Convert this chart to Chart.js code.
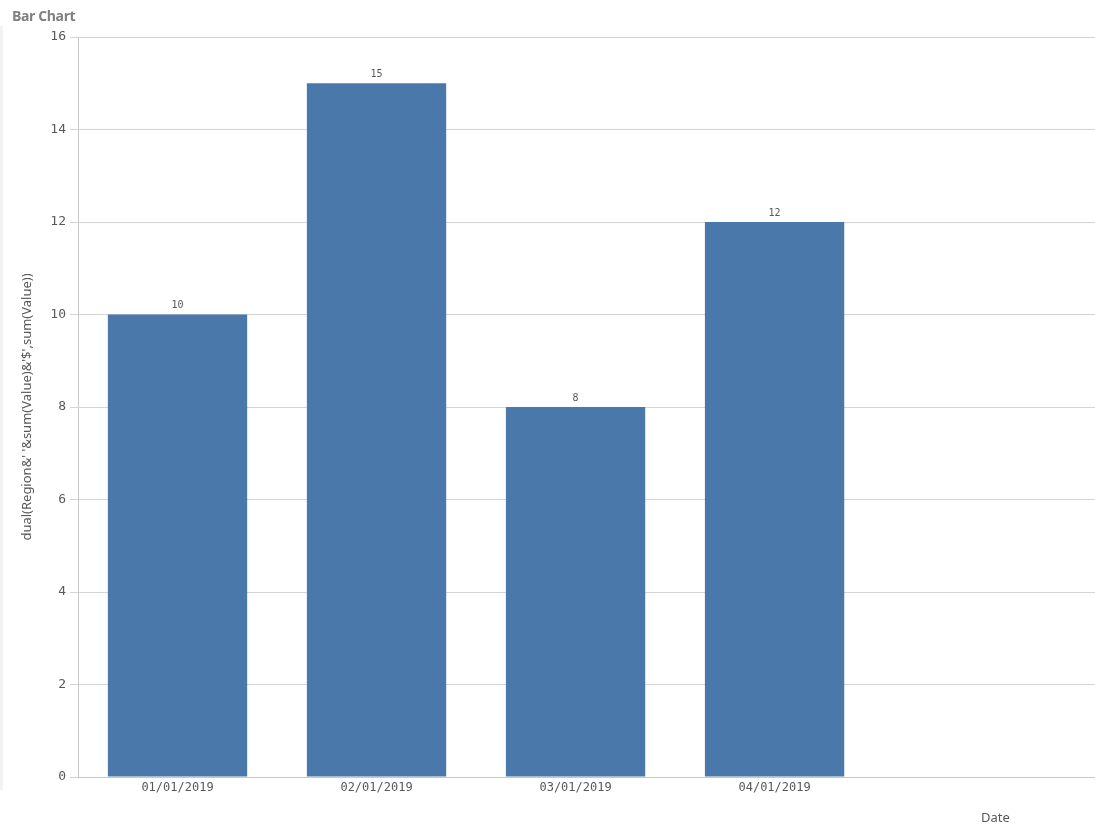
<!DOCTYPE html>
<html>
<head>
<meta charset="utf-8">
<script src="https://cdn.jsdelivr.net/npm/chart.js@4"></script>
<style>
  html, body { margin: 0; padding: 0; background: #fff; }
  #wrap { position: relative; width: 1095px; height: 833px; }
  #title { position: absolute; left: 12px; top: 6px; font: bold 14px "Open Sans", "Noto Sans", sans-serif; color: #7f7f7f; letter-spacing: -0.4px; }
  #edge { position: absolute; left: 0; top: 26px; width: 3px; height: 764px; background: #f2f2f2; }
  #xtitle { position: absolute; left: 981px; top: 808px; font: 13px "Noto Sans", sans-serif; color: #595959; }
  canvas { position: absolute; left: 0; top: 0; }
</style>
</head>
<body>
<div id="wrap">
  <div id="edge"></div>
  <canvas id="chart" width="1095" height="833"></canvas>
  <div id="title">Bar Chart</div>
  <div id="xtitle">Date</div>
</div>
<script>
const dates = ["01/01/2019", "02/01/2019", "03/01/2019", "04/01/2019"];
const values = [10, 15, 8, 12];
const yTicks = [0, 2, 4, 6, 8, 10, 12, 14, 16];
const yTitle = "dual(Region&' '&sum(Value)&'$',sum(Value))";

const monoFont = "'DejaVu Sans Mono', monospace";

// value labels above each bar
const barLabels = {
  id: "barLabels",
  afterDatasetsDraw(chart) {
    const ctx = chart.ctx;
    const meta = chart.getDatasetMeta(0);
    ctx.save();
    ctx.font = "10px " + monoFont;
    ctx.fillStyle = "#595959";
    ctx.textAlign = "center";
    ctx.textBaseline = "bottom";
    meta.data.forEach((bar, i) => {
      ctx.fillText(String(values[i]), bar.x, bar.y - 4);
    });
    ctx.restore();
  }
};

new Chart(document.getElementById("chart"), {
  type: "bar",
  data: {
    datasets: [{
      data: values.map((v, i) => ({ x: i, y: v })),
      backgroundColor: "#4a78ab",
      barPercentage: 0.7,
      categoryPercentage: 1
    }]
  },
  options: {
    responsive: false,
    animation: false,
    layout: { padding: { top: 37, right: 0, left: 0, bottom: 0 } },
    plugins: {
      legend: { display: false },
      tooltip: { enabled: false }
    },
    scales: {
      x: {
        type: "linear",
        offset: false,
        min: -0.5,
        max: 4.61,
        afterBuildTicks(scale) {
          scale.ticks = dates.map((d, i) => ({ value: i }));
        },
        afterFit(scale) { scale.height = 56; },
        ticks: {
          autoSkip: false,
          maxRotation: 0,
          padding: 4,
          color: "#595959",
          font: { family: monoFont, size: 12 },
          callback: v => dates[v] ?? ""
        },
        grid: { display: false, drawTicks: false },
        border: { color: "#c8c8c8", width: 1 }
      },
      y: {
        min: 0,
        max: 16,
        afterBuildTicks(scale) {
          scale.ticks = yTicks.map(v => ({ value: v }));
        },
        afterFit(scale) { scale.width = 78; },
        ticks: {
          padding: 4,
          color: "#595959",
          font: { family: monoFont, size: 13 }
        },
        grid: { color: "#d4d4d4", tickLength: 8, tickColor: "#d4d4d4" },
        border: { color: "#c8c8c8", width: 1 },
        title: {
          display: true,
          text: yTitle,
          color: "#595959",
          font: { family: "'Noto Sans', sans-serif", size: 13 },
          padding: { top: 19, bottom: 0 }
        }
      }
    }
  },
  plugins: [barLabels]
});
</script>
</body>
</html>
